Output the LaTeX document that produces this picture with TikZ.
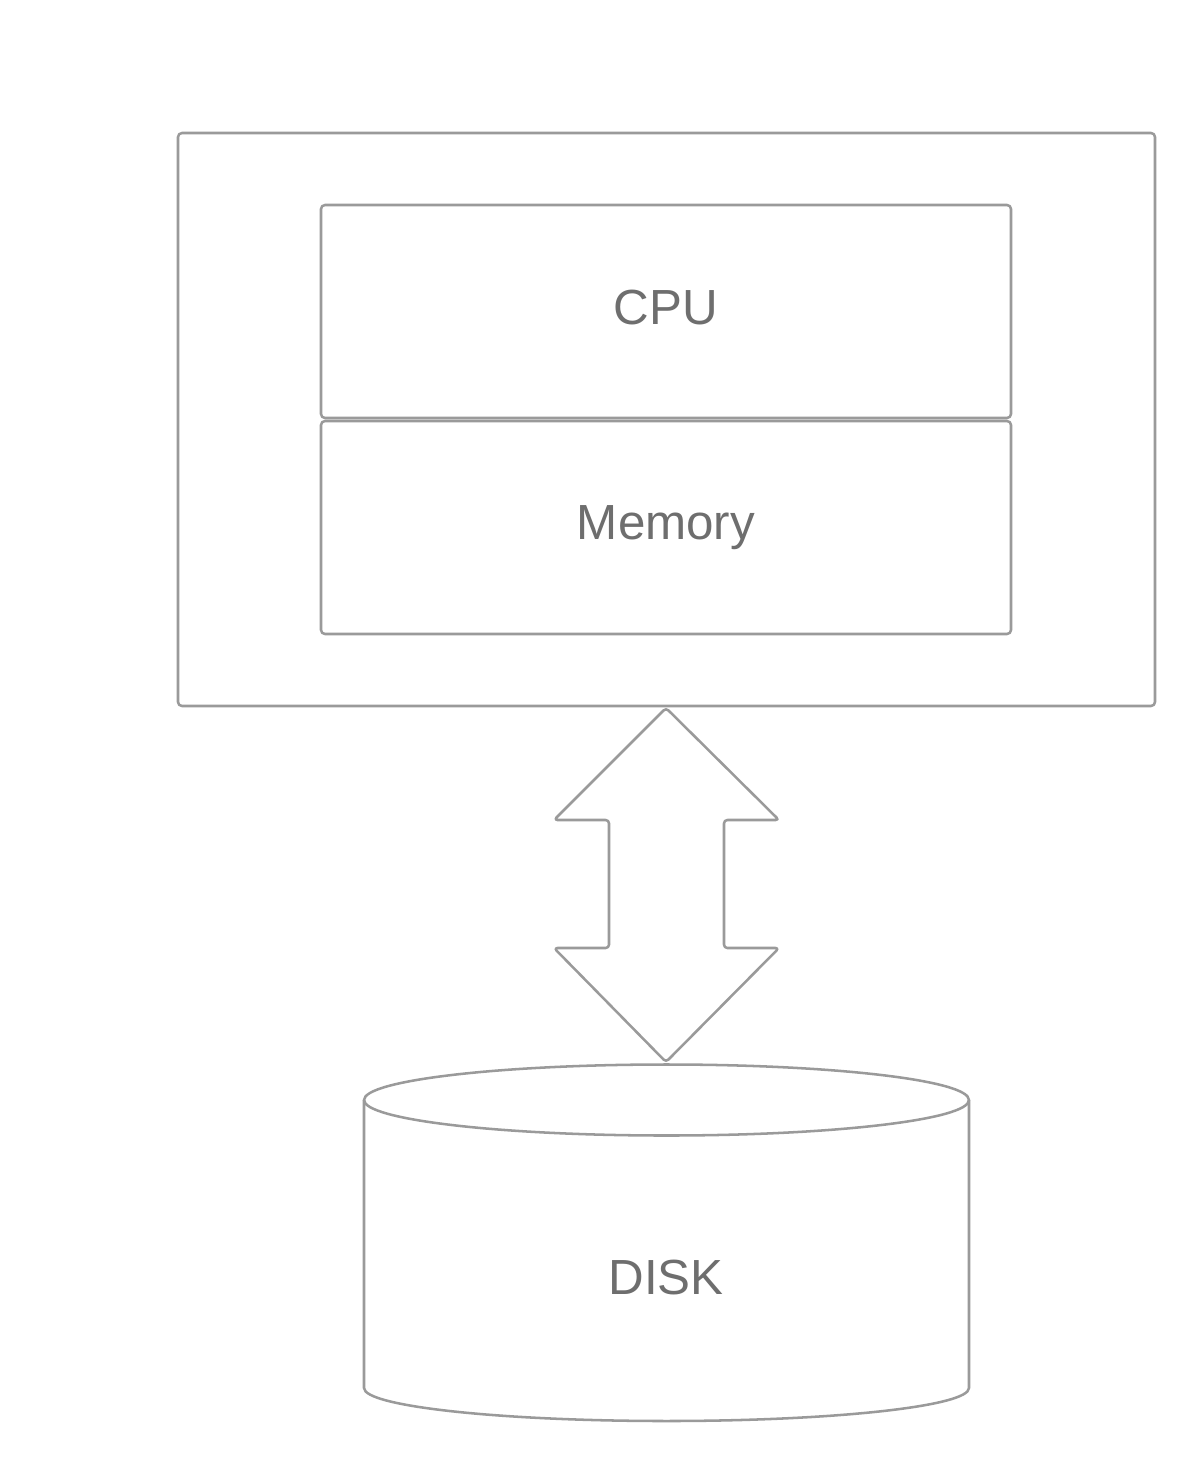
\documentclass[tikz,border=0pt]{standalone}
\usepackage{fontspec}
\setmainfont{Liberation Sans}
\definecolor{linegray}{HTML}{9A9A9A}
\definecolor{textgray}{HTML}{6E6E6E}
\begin{document}
\begin{tikzpicture}[x=0.75pt,y=-0.75pt,
  shapeline/.style={draw=linegray,line width=1.9pt,line join=round},
  boxstyle/.style={shapeline,rounded corners=3pt},
  labelstyle/.style={text=textgray,font=\fontsize{37}{44}\selectfont,inner sep=0pt,anchor=base}]
\useasboundingbox (0,0) rectangle (1200,1467);
% outer box
\draw[boxstyle] (178,133) rectangle (1155,706);
% CPU and Memory boxes
\draw[boxstyle] (321,205) rectangle (1011,418);
\draw[boxstyle] (321,421) rectangle (1011,634);
\node[labelstyle] (cpu) at (666,324) {CPU};
\node[labelstyle] (mem) at (666,539) {Memory};
% double arrow
\draw[shapeline,rounded corners=2.5pt]
  (666,708) -- (779,820) -- (724,820) -- (724,948) -- (779,948)
  -- (666,1062) -- (554,948) -- (609,948) -- (609,820) -- (554,820) -- cycle;
% disk cylinder
\draw[shapeline] (364,1100) -- (364,1388)
  arc[start angle=180,end angle=0,x radius=302.5,y radius=33] -- (969,1100);
\draw[shapeline] (666.5,1100) ellipse[x radius=302.5,y radius=35.5];
\node[labelstyle] (disk) at (666,1294) {DISK};
\end{tikzpicture}
\end{document}
